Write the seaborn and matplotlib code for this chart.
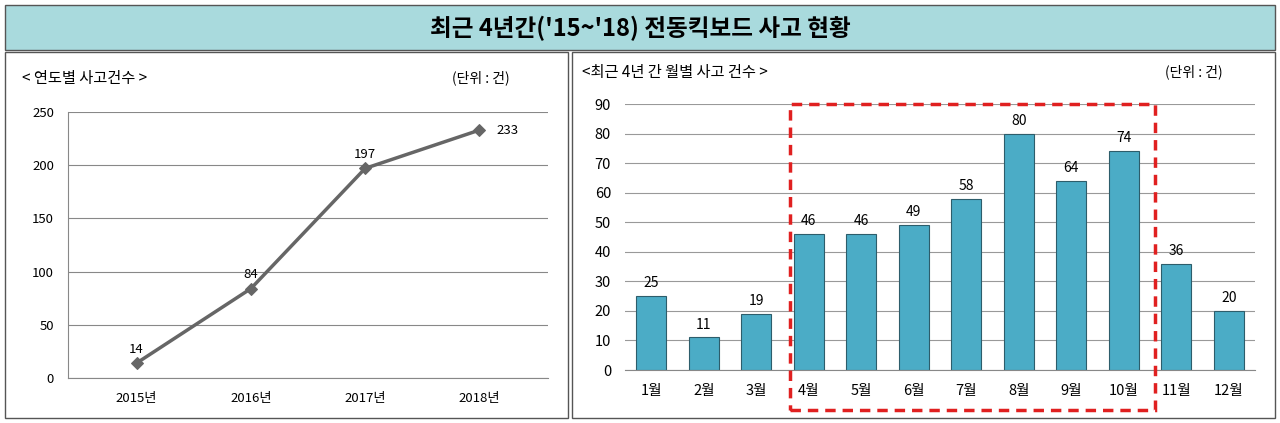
import matplotlib
matplotlib.use("Agg")
import matplotlib.pyplot as plt
from matplotlib import font_manager as fm
import seaborn as sns
import pandas as pd
from matplotlib.patches import Rectangle

for f in fm.findSystemFonts():
    if "CJK" in f or "cjk" in f.lower():
        try:
            fm.fontManager.addfont(f)
        except Exception:
            pass
names = {f.name for f in fm.fontManager.ttflist}
fam = [n for n in ["Noto Sans CJK KR", "Noto Sans CJK JP", "Noto Sans CJK SC", "Noto Sans CJK TC"] if n in names]
plt.rcParams["font.family"] = fam + ["DejaVu Sans"]

years = ["2015년", "2016년", "2017년", "2018년"]
year_counts = [14, 84, 197, 233]
months = ["1월", "2월", "3월", "4월", "5월", "6월", "7월", "8월", "9월", "10월", "11월", "12월"]
month_counts = [25, 11, 19, 46, 46, 49, 58, 80, 64, 74, 36, 20]

W, H = 1280, 423
fig = plt.figure(figsize=(12.8, 4.23), dpi=100)

def fx(x): return x / W
def fy(y): return 1 - y / H

fig.patches.append(Rectangle((fx(5), fy(50)), fx(1270), 45 / H, transform=fig.transFigure,
                             facecolor="#a9dadd", edgecolor="#555555", lw=1, zorder=-5))
fig.text(0.5, fy(28), "최근 4년간('15~'18) 전동킥보드 사고 현황", ha="center", va="center",
         fontsize=17, fontweight="bold")
for x0, x1 in [(5, 568), (572, 1275)]:
    fig.patches.append(Rectangle((fx(x0), fy(418)), fx(x1 - x0), 366 / H, transform=fig.transFigure,
                                 facecolor="none", edgecolor="#555555", lw=1, zorder=-5))
fig.text(fx(22), fy(78), "< 연도별 사고건수 >", fontsize=11, va="center")
fig.text(fx(452), fy(78), "(단위 : 건)", fontsize=10, va="center")
fig.text(fx(582), fy(72), "<최근 4년 간 월별 사고 건수 >", fontsize=11, va="center")
fig.text(fx(1165), fy(72), "(단위 : 건)", fontsize=10, va="center")

ax1 = fig.add_axes([fx(68), fy(378), fx(480), 266 / H])
df1 = pd.DataFrame({"x": range(len(years)), "y": year_counts})
sns.lineplot(data=df1, x="x", y="y", ax=ax1, color="#666666", lw=2.5, marker="D",
             markersize=6, markeredgecolor="#666666")
ax1.set_xlim(-0.6, 3.6)
ax1.set_ylim(0, 250)
ax1.set_yticks(range(0, 251, 50))
ax1.set_xticks(range(len(years)))
ax1.set_xticklabels(years)
ax1.set_xlabel(""); ax1.set_ylabel("")
ax1.grid(axis="y", color="#888888", lw=0.8)
ax1.set_axisbelow(True)
for s in ["top", "right"]:
    ax1.spines[s].set_visible(False)
ax1.spines["left"].set_color("#888888")
ax1.spines["bottom"].set_color("#888888")
ax1.tick_params(length=0, labelsize=9.5, pad=10)
offs = [(0, 10), (0, 10), (0, 10), (20, 0)]
for i, v in enumerate(year_counts):
    ax1.annotate(str(v), (i, v), xytext=offs[i], textcoords="offset points",
                 ha="center", va="center", fontsize=9.5)

ax2 = fig.add_axes([fx(625), fy(370), fx(630), 266 / H])
df2 = pd.DataFrame({"m": months, "c": month_counts})
sns.barplot(data=df2, x="m", y="c", ax=ax2, color="#4bacc6", saturation=1,
            edgecolor="#2d5d6b", linewidth=0.8, width=0.58)
ax2.set_ylim(0, 90)
ax2.set_yticks(range(0, 91, 10))
ax2.set_xlabel(""); ax2.set_ylabel("")
ax2.grid(axis="y", color="#999999", lw=0.8)
ax2.set_axisbelow(True)
for s in ["top", "right", "left"]:
    ax2.spines[s].set_visible(False)
ax2.spines["bottom"].set_color("#888888")
ax2.tick_params(length=0, labelsize=10.5, pad=10)
for i, v in enumerate(month_counts):
    ax2.text(i, v + 2, str(v), ha="center", va="bottom", fontsize=10)

fig.patches.append(Rectangle((fx(790), fy(410)), fx(365), 306 / H, transform=fig.transFigure,
                             fill=False, edgecolor="#e02020", lw=2.5, ls=(0, (3, 2)), zorder=10))

fig.savefig("out.png", dpi=100)
